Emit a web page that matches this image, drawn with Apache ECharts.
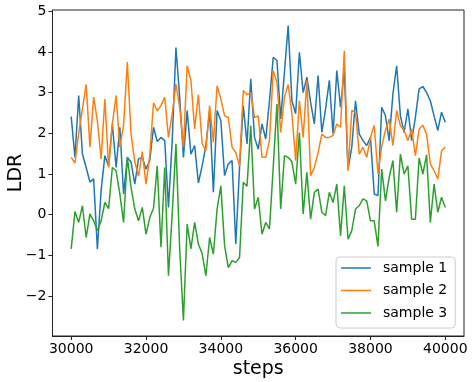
<!DOCTYPE html>
<html>
<head>
<meta charset="utf-8">
<script src="https://cdn.jsdelivr.net/npm/echarts@6/dist/echarts.min.js"></script>
<style>html,body{margin:0;padding:0;background:#fff}#c{width:474px;height:382px}</style>
</head>
<body>
<div id="c"></div>
<script>
const steps = [];
for (let s = 30000; s <= 40000; s += 100) steps.push(s);
const seriesNames = ['sample 1', 'sample 2', 'sample 3'];
const sample1 = [2.41,1.41,2.93,1.49,1.16,0.80,0.88,-0.85,0.6,1.45,1.2,2.23,1.16,2.15,0.51,1.41,1.29,0.75,1.37,1.41,1.12,1.33,2.15,1.8,1.9,1.82,0.18,1.82,4.11,2.89,1.41,2.56,1.49,1.7,0.78,1.2,1.7,2.56,0.55,2.56,2.31,0.96,1.25,1.33,-0.72,1.16,2.68,1.74,3.34,1.9,1.61,2.23,1.86,2.8,3.87,3.79,2.35,3.5,4.65,2.8,2.48,3.99,3.0,3.38,2.76,2.23,3.42,2.02,2.6,3.3,1.98,3.54,2.64,3.54,1.12,1.66,2.8,1.98,1.82,1.7,1.9,0.51,0.47,2.64,2.43,1.82,2.97,3.66,2.43,2.02,2.6,1.82,2.39,3.09,3.15,3.0,2.8,2.43,2.07,2.52,2.27];
const sample2 = [1.41,1.27,2.0,2.6,3.2,1.66,2.89,2.3,1.37,2.84,1.16,2.23,2.93,1.66,2.2,3.75,1.98,1.3,0.95,1.55,0.75,1.45,2.75,2.55,2.68,2.89,1.9,2.48,3.21,2.64,1.66,3.66,3.3,2.11,2.95,1.75,1.57,2.68,1.78,3.17,2.84,2.43,2.39,1.66,1.53,1.2,3.05,2.95,3.0,2.39,2.43,1.41,1.41,1.82,3.54,3.25,2.02,2.89,3.2,2.48,1.33,2.8,1.9,3.3,0.96,1.16,1.53,1.98,1.9,1.9,1.95,2.23,2.15,4.03,1.08,2.56,2.52,1.49,1.66,1.41,1.9,2.19,1.0,1.68,2.07,2.35,1.7,2.56,2.19,2.07,1.82,2.11,1.45,2.1,2.2,1.98,1.25,1.08,0.88,1.57,1.66];
const sample3 = [-0.84,0.08,-0.19,0.22,-0.56,0.02,-0.15,-0.39,-0.15,0.30,0.15,1.16,1.08,0.51,-0.19,1.41,0.67,0.14,-0.15,0.18,-0.48,-0.07,0.16,1.2,-0.8,1.16,-1.5,0.02,1.74,-0.84,-2.6,-0.23,-0.84,-0.19,-0.72,-0.95,-1.5,-0.56,-0.97,0.14,0.71,-0.76,-1.3,-1.13,-1.17,-1.05,0.8,0.7,2.19,0.14,0.43,-0.48,-0.19,-0.35,1.16,2.72,0.14,1.45,1.41,1.3,0.75,2.02,0.02,1.04,-0.11,0.55,0.63,0.06,-0.02,0.55,0.3,0.75,-0.52,0.71,-0.6,-0.39,0.14,0.22,0.39,0.34,-0.15,-0.15,-0.78,1.12,0.34,0.92,1.33,0.06,1.49,1.0,1.2,-0.11,-0.11,1.39,1.0,1.47,-0.19,0.75,0.06,0.43,0.18];
const xTicks = [30000, 32000, 34000, 36000, 38000, 40000];
const yTicks = [-2, -1, 0, 1, 2, 3, 4, 5];
const colors = ['#1f77b4', '#ff7f0e', '#2ca02c'];

const FONT = 'DejaVu Sans';
const chart = echarts.init(document.getElementById('c'), null, {renderer: 'canvas'});
const mk = (name, vals, color) => ({
  name: name, type: 'line', symbol: 'none', animation: false,
  data: steps.map((s, i) => [s, vals[i]]),
  lineStyle: {color: color, width: 1.5}, itemStyle: {color: color}
});
chart.setOption({
  animation: false,
  textStyle: {fontFamily: FONT},
  grid: {left: 52.5, right: 10, top: 10, bottom: 46, show: true, borderColor: '#222', borderWidth: 1,
    containLabel: false, outerBoundsMode: 'none'},
  xAxis: {
    type: 'value', min: 29500, max: 40500,
    name: 'steps', nameLocation: 'middle', nameGap: 24, nameMoveOverlap: false,
    nameTextStyle: {fontFamily: FONT, fontSize: 19, color: '#000'},
    axisLine: {show: true, onZero: false, lineStyle: {color: '#222', width: 1}},
    axisTick: {show: true, customValues: xTicks, length: 4, lineStyle: {color: '#222'}},
    axisLabel: {customValues: xTicks, fontFamily: FONT, fontSize: 14, color: '#000', margin: 6,
      formatter: v => String(v)},
    splitLine: {show: false}
  },
  yAxis: {
    type: 'value', min: -2.98, max: 5.03,
    name: 'LDR', nameLocation: 'middle', nameGap: 27, nameRotate: 90, nameMoveOverlap: false,
    nameTextStyle: {fontFamily: FONT, fontSize: 19, color: '#000'},
    axisLine: {show: true, onZero: false, lineStyle: {color: '#222', width: 1}},
    axisTick: {show: true, customValues: yTicks, length: 4, lineStyle: {color: '#222'}},
    axisLabel: {customValues: yTicks, fontFamily: FONT, fontSize: 14, color: '#000', margin: 6,
      formatter: v => String(v).replace('-', '\u2212')},
    splitLine: {show: false}
  },
  legend: {
    orient: 'vertical', left: 336, top: 257,
    padding: [4, 8, 8, 5], itemGap: 8.5, itemWidth: 30, itemHeight: 14,
    backgroundColor: 'rgba(255,255,255,0.8)', borderColor: '#cccccc', borderWidth: 1, borderRadius: 4,
    textStyle: {fontFamily: FONT, fontSize: 14, color: '#000', padding: [0, 0, 0, 7]},
    data: seriesNames.map((n, i) => ({name: n, icon: 'path://M0,0L30,0L30,1.5L0,1.5Z', itemStyle: {color: colors[i]}}))
  },
  series: [mk(seriesNames[0], sample1, colors[0]), mk(seriesNames[1], sample2, colors[1]), mk(seriesNames[2], sample3, colors[2])]
});
</script>
</body>
</html>
